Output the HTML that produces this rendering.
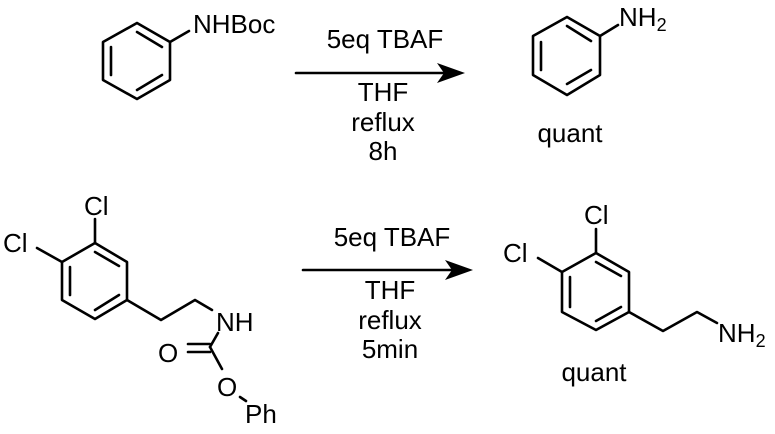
<!DOCTYPE html>
<html><head><style>body{margin:0;background:#fff}</style></head><body>
<svg width="775" height="429" xmlns="http://www.w3.org/2000/svg" font-family="Liberation Sans, Arial, sans-serif" font-size="26" fill="#000">
<g stroke="#000" stroke-width="2.6" fill="none" stroke-linecap="round" stroke-linejoin="round">
<polygon points="137,23 170,42 170,80 137,99 103,80 103,42"/>
<line x1="137" y1="32" x2="162" y2="47"/><line x1="162" y1="75" x2="137" y2="90"/><line x1="111" y1="47" x2="111" y2="75"/>
<line x1="170" y1="42" x2="189" y2="31"/>
<polygon points="567,17 600,36 600,75 567,95 533,75 533,36"/>
<line x1="567" y1="26" x2="591" y2="41"/><line x1="591" y1="70" x2="567" y2="84"/><line x1="541" y1="42" x2="541" y2="70"/>
<line x1="600" y1="36" x2="618" y2="25"/>
<polygon points="95,243 127,262 127,300 95,319 62,300 62,262"/>
<line x1="95" y1="252" x2="119" y2="266"/><line x1="119" y1="295" x2="95" y2="310"/><line x1="70" y1="267" x2="70" y2="295"/>
<line x1="95" y1="243" x2="95" y2="219"/><line x1="62" y1="262" x2="37" y2="248"/>
<polyline points="127,300 161,320 195,300 212,310"/>
<line x1="218" y1="333" x2="210" y2="347"/>
<line x1="210" y1="347" x2="222" y2="369"/>
<line x1="210" y1="344" x2="188" y2="344"/><line x1="210" y1="352" x2="188" y2="352"/>
<line x1="240" y1="397" x2="246" y2="401"/>
<polygon points="596,253 629,272 629,312 596,330 562,312 562,272"/>
<line x1="596" y1="262" x2="621" y2="276"/><line x1="621" y1="307" x2="596" y2="321"/><line x1="570" y1="277" x2="570" y2="307"/>
<line x1="596" y1="253" x2="596" y2="229"/><line x1="562" y1="272" x2="538" y2="258"/>
<polyline points="629,312 663,331 697,312 717,323"/>
<line x1="296" y1="73" x2="445" y2="73"/><line x1="303" y1="270" x2="452" y2="270"/>
</g>
<polygon points="465,73 437,63 444,73 437,83"/>
<polygon points="473,270 445,260 452,270 445,280"/>
<g text-anchor="middle">
<text x="385" y="48">5eq TBAF</text><text x="383" y="101">THF</text><text x="383" y="131">reflux</text><text x="383" y="160">8h</text>
<text x="392" y="246">5eq TBAF</text><text x="390" y="299">THF</text><text x="390" y="329">reflux</text><text x="390" y="358">5min</text>
<text x="570" y="142">quant</text><text x="594" y="381">quant</text>
</g>
<text x="193" y="33">NHBoc</text>
<text x="619" y="26">NH<tspan font-size="18" dy="5">2</tspan></text>
<text x="84" y="215">Cl</text><text x="3" y="252">Cl</text>
<text x="216" y="331">NH</text><text x="158" y="362">O</text><text x="217" y="396">O</text><text x="245" y="423">Ph</text>
<text x="584" y="224">Cl</text><text x="503" y="262">Cl</text>
<text x="718" y="342">NH<tspan font-size="18" dy="5">2</tspan></text>
</svg>
</body></html>
